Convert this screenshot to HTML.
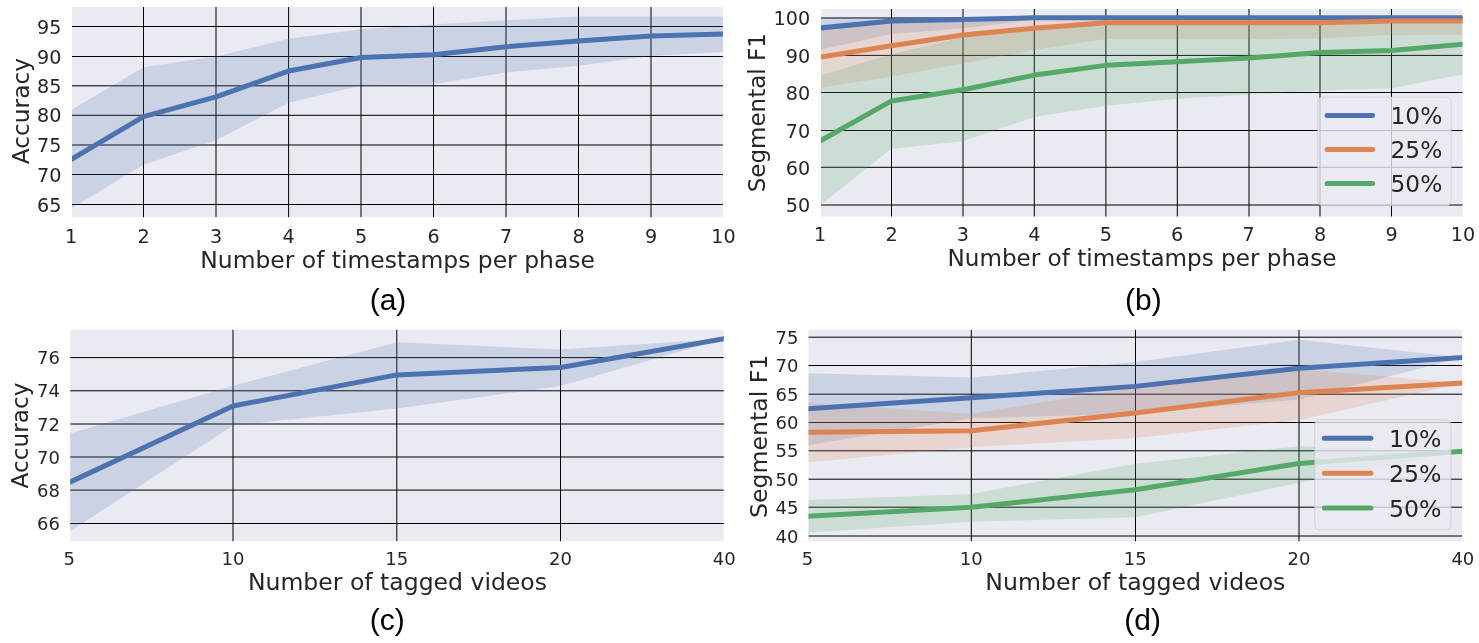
<!DOCTYPE html>
<html><head><meta charset="utf-8"><title>Figure</title>
<style>
html,body{margin:0;padding:0;background:#fff;width:1479px;height:643px;overflow:hidden}
svg{display:block}
.t{font-family:"DejaVu Sans","Liberation Sans",sans-serif;fill:#262626}
.c{font-family:"Liberation Sans",Arial,sans-serif;fill:#000}
</style></head><body>
<svg width="1479" height="643" viewBox="0 0 1479 643">
<clipPath id="clipa"><rect x="72" y="7" width="650.9" height="210.2"/></clipPath>
<rect x="72" y="7" width="650.9" height="210.2" fill="#EAEAF2"/>
<path d="M72 204.5H722.9M72 174.5H722.9M72 145H722.9M72 115.3H722.9M72 85.8H722.9M72 56.5H722.9M72 26.5H722.9M143.5 7V217.2M216 7V217.2M288.6 7V217.2M361 7V217.2M433.5 7V217.2M506 7V217.2M578.5 7V217.2M651 7V217.2" stroke="#000000" stroke-width="1.0" fill="none"/>
<g clip-path="url(#clipa)">
<polygon points="71,110 143.5,67.16 216,56.48 288.5,38.68 361,29.19 433.5,24.44 506,20.29 578.5,16.43 651,16.43 723.5,16.43 723.5,52.03 651,55.89 578.5,65.68 506,72.5 433.5,84.37 361,85.55 288.5,102.76 216,140.14 143.5,164.76 71,208.6" fill="#4C72B0" fill-opacity="0.2"/>
<polyline points="71,159.48 143.5,116.7 216,96.83 288.5,71.08 361,57.43 433.5,54.7 506,46.75 578.5,41.06 651,35.95 723.5,33.94" fill="none" stroke="#4C72B0" stroke-width="5.0" stroke-linecap="round" stroke-linejoin="round"/>
</g>
<text transform="translate(61.5 211.55) scale(0.95 1)" font-size="20.2" text-anchor="end" class="t">65</text>
<text transform="translate(61.5 181.55) scale(0.95 1)" font-size="20.2" text-anchor="end" class="t">70</text>
<text transform="translate(61.5 152.05) scale(0.95 1)" font-size="20.2" text-anchor="end" class="t">75</text>
<text transform="translate(61.5 122.35) scale(0.95 1)" font-size="20.2" text-anchor="end" class="t">80</text>
<text transform="translate(61.5 92.85) scale(0.95 1)" font-size="20.2" text-anchor="end" class="t">85</text>
<text transform="translate(61.5 63.55) scale(0.95 1)" font-size="20.2" text-anchor="end" class="t">90</text>
<text transform="translate(61.5 33.55) scale(0.95 1)" font-size="20.2" text-anchor="end" class="t">95</text>
<text transform="translate(71 242.5) scale(0.95 1)" font-size="20.2" text-anchor="middle" class="t">1</text>
<text transform="translate(143.5 242.5) scale(0.95 1)" font-size="20.2" text-anchor="middle" class="t">2</text>
<text transform="translate(216 242.5) scale(0.95 1)" font-size="20.2" text-anchor="middle" class="t">3</text>
<text transform="translate(288.5 242.5) scale(0.95 1)" font-size="20.2" text-anchor="middle" class="t">4</text>
<text transform="translate(361 242.5) scale(0.95 1)" font-size="20.2" text-anchor="middle" class="t">5</text>
<text transform="translate(433.5 242.5) scale(0.95 1)" font-size="20.2" text-anchor="middle" class="t">6</text>
<text transform="translate(506 242.5) scale(0.95 1)" font-size="20.2" text-anchor="middle" class="t">7</text>
<text transform="translate(578.5 242.5) scale(0.95 1)" font-size="20.2" text-anchor="middle" class="t">8</text>
<text transform="translate(651 242.5) scale(0.95 1)" font-size="20.2" text-anchor="middle" class="t">9</text>
<text transform="translate(723.5 242.5) scale(0.95 1)" font-size="20.2" text-anchor="middle" class="t">10</text>
<text x="397.6" y="268" font-size="23.43" text-anchor="middle" class="t">Number of timestamps per phase</text>
<text transform="translate(28.6 111.1) rotate(-90)" font-size="23.3" text-anchor="middle" class="t">Accuracy</text>
<clipPath id="clipb"><rect x="821" y="9" width="641.5" height="207.5"/></clipPath>
<rect x="821" y="9" width="641.5" height="207.5" fill="#EAEAF2"/>
<path d="M821 205H1462.5M821 167.3H1462.5M821 130.5H1462.5M821 92.5H1462.5M821 55.4H1462.5M821 18H1462.5M891.5 9V216.5M963 9V216.5M1034.3 9V216.5M1105.9 9V216.5M1177.3 9V216.5M1249 9V216.5M1320 9V216.5M1391.5 9V216.5" stroke="#000000" stroke-width="1.0" fill="none"/>
<g clip-path="url(#clipb)">
<polygon points="820.07,17.86 891.5,17.86 962.93,17.86 1034.36,17.86 1105.79,17.86 1177.22,17.86 1248.65,17.86 1320.08,17.86 1391.51,17.86 1462.94,17.86 1462.94,17.86 1391.51,17.86 1320.08,17.86 1248.65,17.86 1177.22,17.86 1105.79,17.86 1034.36,19.73 962.93,28.33 891.5,33.94 820.07,49.66" fill="#4C72B0" fill-opacity="0.2"/>
<polygon points="820.07,27.96 891.5,21.6 962.93,19.73 1034.36,17.86 1105.79,17.86 1177.22,17.86 1248.65,17.86 1320.08,17.86 1391.51,17.86 1462.94,17.86 1462.94,34.69 1391.51,35.07 1320.08,38.43 1248.65,39.37 1177.22,39.18 1105.79,39 1034.36,50.03 962.93,63.5 891.5,76.6 820.07,87.82" fill="#DD8452" fill-opacity="0.2"/>
<polygon points="820.07,75.48 891.5,54.15 962.93,37.31 1034.36,27.21 1105.79,23.47 1177.22,23.47 1248.65,23.47 1320.08,23.47 1391.51,21.6 1462.94,21.6 1462.94,74.35 1391.51,88.2 1320.08,90.44 1248.65,94.56 1177.22,98.68 1105.79,105.78 1034.36,117.01 962.93,141.33 891.5,148.81 820.07,205.31" fill="#55A868" fill-opacity="0.2"/>
<polyline points="820.07,27.96 891.5,20.89 962.93,19.39 1034.36,17.86 1105.79,17.86 1177.22,17.86 1248.65,17.86 1320.08,17.86 1391.51,17.67 1462.94,17.67" fill="none" stroke="#4C72B0" stroke-width="5.0" stroke-linecap="round" stroke-linejoin="round"/>
<polyline points="820.07,57.14 891.5,45.69 962.93,34.99 1034.36,28.33 1105.79,22.79 1177.22,22.79 1248.65,22.79 1320.08,22.79 1391.51,21.04 1462.94,21.04" fill="none" stroke="#DD8452" stroke-width="5.0" stroke-linecap="round" stroke-linejoin="round"/>
<polyline points="820.07,140.96 891.5,100.92 962.93,89.7 1034.36,75.1 1105.79,65.37 1177.22,61.82 1248.65,58.08 1320.08,52.47 1391.51,50.59 1462.94,44.23" fill="none" stroke="#55A868" stroke-width="5.0" stroke-linecap="round" stroke-linejoin="round"/>
</g>
<rect x="1317.9" y="97.1" width="133.2" height="108.5" rx="4.5" fill="#EAEAF2" fill-opacity="0.8" stroke="#CCCCCC" stroke-opacity="0.8" stroke-width="1"/>
<path d="M1327.1 115.4H1372.6" stroke="#4C72B0" stroke-width="5.0" stroke-linecap="round"/>
<text x="1390.5" y="124" font-size="23.3" class="t">10%</text>
<path d="M1327.1 149.6H1372.6" stroke="#DD8452" stroke-width="5.0" stroke-linecap="round"/>
<text x="1390.5" y="158.2" font-size="23.3" class="t">25%</text>
<path d="M1327.1 183.4H1372.6" stroke="#55A868" stroke-width="5.0" stroke-linecap="round"/>
<text x="1390.5" y="192" font-size="23.3" class="t">50%</text>
<text transform="translate(810.2 212.28) scale(0.96 1)" font-size="20.0" text-anchor="end" class="t">50</text>
<text transform="translate(810.2 174.58) scale(0.96 1)" font-size="20.0" text-anchor="end" class="t">60</text>
<text transform="translate(810.2 137.78) scale(0.96 1)" font-size="20.0" text-anchor="end" class="t">70</text>
<text transform="translate(810.2 99.78) scale(0.96 1)" font-size="20.0" text-anchor="end" class="t">80</text>
<text transform="translate(810.2 62.68) scale(0.96 1)" font-size="20.0" text-anchor="end" class="t">90</text>
<text transform="translate(810.2 25.28) scale(0.96 1)" font-size="20.0" text-anchor="end" class="t">100</text>
<text transform="translate(820.07 240.8) scale(0.96 1)" font-size="20.0" text-anchor="middle" class="t">1</text>
<text transform="translate(891.5 240.8) scale(0.96 1)" font-size="20.0" text-anchor="middle" class="t">2</text>
<text transform="translate(962.93 240.8) scale(0.96 1)" font-size="20.0" text-anchor="middle" class="t">3</text>
<text transform="translate(1034.36 240.8) scale(0.96 1)" font-size="20.0" text-anchor="middle" class="t">4</text>
<text transform="translate(1105.79 240.8) scale(0.96 1)" font-size="20.0" text-anchor="middle" class="t">5</text>
<text transform="translate(1177.22 240.8) scale(0.96 1)" font-size="20.0" text-anchor="middle" class="t">6</text>
<text transform="translate(1248.65 240.8) scale(0.96 1)" font-size="20.0" text-anchor="middle" class="t">7</text>
<text transform="translate(1320.08 240.8) scale(0.96 1)" font-size="20.0" text-anchor="middle" class="t">8</text>
<text transform="translate(1391.51 240.8) scale(0.96 1)" font-size="20.0" text-anchor="middle" class="t">9</text>
<text transform="translate(1462.94 240.8) scale(0.96 1)" font-size="20.0" text-anchor="middle" class="t">10</text>
<text x="1142" y="266.2" font-size="23.1" text-anchor="middle" class="t">Number of timestamps per phase</text>
<text transform="translate(765.3 112.75) rotate(-90)" font-size="23.0" text-anchor="middle" class="t">Segmental F1</text>
<clipPath id="clipc"><rect x="70.2" y="329.8" width="653.6" height="211.4"/></clipPath>
<rect x="70.2" y="329.8" width="653.6" height="211.4" fill="#EAEAF2"/>
<path d="M70.2 523.5H723.8M70.2 490.1H723.8M70.2 457H723.8M70.2 424H723.8M70.2 390.8H723.8M70.2 357.6H723.8M233 329.8V541.2M396.8 329.8V541.2M560.5 329.8V541.2" stroke="#000000" stroke-width="1.0" fill="none"/>
<g clip-path="url(#clipc)">
<polygon points="69.25,433.66 233,385.69 396.75,342.36 560.5,349.5 724.25,338.71 724.25,338.71 560.5,386.02 396.75,408.43 233,425.53 69.25,531.77" fill="#4C72B0" fill-opacity="0.2"/>
<polyline points="69.25,482.47 233,405.94 396.75,374.9 560.5,367.43 724.25,338.71" fill="none" stroke="#4C72B0" stroke-width="5.0" stroke-linecap="round" stroke-linejoin="round"/>
</g>
<text transform="translate(60 530.05) scale(1.0 1)" font-size="18.0" text-anchor="end" class="t">66</text>
<text transform="translate(60 496.65) scale(1.0 1)" font-size="18.0" text-anchor="end" class="t">68</text>
<text transform="translate(60 463.55) scale(1.0 1)" font-size="18.0" text-anchor="end" class="t">70</text>
<text transform="translate(60 430.55) scale(1.0 1)" font-size="18.0" text-anchor="end" class="t">72</text>
<text transform="translate(60 397.35) scale(1.0 1)" font-size="18.0" text-anchor="end" class="t">74</text>
<text transform="translate(60 364.15) scale(1.0 1)" font-size="18.0" text-anchor="end" class="t">76</text>
<text transform="translate(69.25 565) scale(1.0 1)" font-size="18.0" text-anchor="middle" class="t">5</text>
<text transform="translate(233 565) scale(1.0 1)" font-size="18.0" text-anchor="middle" class="t">10</text>
<text transform="translate(396.75 565) scale(1.0 1)" font-size="18.0" text-anchor="middle" class="t">15</text>
<text transform="translate(560.5 565) scale(1.0 1)" font-size="18.0" text-anchor="middle" class="t">20</text>
<text transform="translate(724.25 565) scale(1.0 1)" font-size="18.0" text-anchor="middle" class="t">40</text>
<text x="397.45" y="590" font-size="23.54" text-anchor="middle" class="t">Number of tagged videos</text>
<text transform="translate(28 435.5) rotate(-90)" font-size="23.2" text-anchor="middle" class="t">Accuracy</text>
<clipPath id="clipd"><rect x="808.5" y="329.8" width="653.7" height="211.4"/></clipPath>
<rect x="808.5" y="329.8" width="653.7" height="211.4" fill="#EAEAF2"/>
<path d="M808.5 536H1462.2M808.5 507.2H1462.2M808.5 479.2H1462.2M808.5 450.8H1462.2M808.5 422.5H1462.2M808.5 394.2H1462.2M808.5 365.5H1462.2M808.5 337.2H1462.2M971.3 329.8V541.2M1135.5 329.8V541.2M1299 329.8V541.2" stroke="#000000" stroke-width="1.0" fill="none"/>
<g clip-path="url(#clipd)">
<polygon points="807.45,373.32 971.3,377.58 1135.15,361.96 1299,339.8 1462.85,357.41 1462.85,357.41 1299,399.44 1135.15,413.64 971.3,418.19 807.45,445.45" fill="#4C72B0" fill-opacity="0.2"/>
<polygon points="807.45,402.85 971.3,413.64 1135.15,387.52 1299,369.34 1462.85,382.97 1462.85,382.97 1299,420.12 1135.15,438.07 971.3,447.16 807.45,462.21" fill="#DD8452" fill-opacity="0.2"/>
<polygon points="807.45,499.98 971.3,493.96 1135.15,463.63 1299,446.13 1462.85,451.25 1462.85,451.25 1299,482.71 1135.15,517.25 971.3,521.79 807.45,532.81" fill="#55A868" fill-opacity="0.2"/>
<polyline points="807.45,408.87 971.3,397.74 1135.15,386.38 1299,368.32 1462.85,357.41" fill="none" stroke="#4C72B0" stroke-width="5.0" stroke-linecap="round" stroke-linejoin="round"/>
<polyline points="807.45,432.22 971.3,430.68 1135.15,413.08 1299,392.63 1462.85,382.97" fill="none" stroke="#DD8452" stroke-width="5.0" stroke-linecap="round" stroke-linejoin="round"/>
<polyline points="807.45,516.17 971.3,507.36 1135.15,489.76 1299,463.46 1462.85,451.25" fill="none" stroke="#55A868" stroke-width="5.0" stroke-linecap="round" stroke-linejoin="round"/>
</g>
<rect x="1314.8" y="419.8" width="136.1" height="110" rx="4.5" fill="#EAEAF2" fill-opacity="0.8" stroke="#CCCCCC" stroke-opacity="0.8" stroke-width="1"/>
<path d="M1324.3 438.3H1370.9" stroke="#4C72B0" stroke-width="5.0" stroke-linecap="round"/>
<text x="1389" y="446.9" font-size="23.6" class="t">10%</text>
<path d="M1324.3 473.2H1370.9" stroke="#DD8452" stroke-width="5.0" stroke-linecap="round"/>
<text x="1389" y="481.8" font-size="23.6" class="t">25%</text>
<path d="M1324.3 508H1370.9" stroke="#55A868" stroke-width="5.0" stroke-linecap="round"/>
<text x="1389" y="516.6" font-size="23.6" class="t">50%</text>
<text transform="translate(798.5 542.55) scale(1.0 1)" font-size="18.0" text-anchor="end" class="t">40</text>
<text transform="translate(798.5 513.75) scale(1.0 1)" font-size="18.0" text-anchor="end" class="t">45</text>
<text transform="translate(798.5 485.75) scale(1.0 1)" font-size="18.0" text-anchor="end" class="t">50</text>
<text transform="translate(798.5 457.35) scale(1.0 1)" font-size="18.0" text-anchor="end" class="t">55</text>
<text transform="translate(798.5 429.05) scale(1.0 1)" font-size="18.0" text-anchor="end" class="t">60</text>
<text transform="translate(798.5 400.75) scale(1.0 1)" font-size="18.0" text-anchor="end" class="t">65</text>
<text transform="translate(798.5 372.05) scale(1.0 1)" font-size="18.0" text-anchor="end" class="t">70</text>
<text transform="translate(798.5 343.75) scale(1.0 1)" font-size="18.0" text-anchor="end" class="t">75</text>
<text transform="translate(807.45 565) scale(1.0 1)" font-size="18.0" text-anchor="middle" class="t">5</text>
<text transform="translate(971.3 565) scale(1.0 1)" font-size="18.0" text-anchor="middle" class="t">10</text>
<text transform="translate(1135.15 565) scale(1.0 1)" font-size="18.0" text-anchor="middle" class="t">15</text>
<text transform="translate(1299 565) scale(1.0 1)" font-size="18.0" text-anchor="middle" class="t">20</text>
<text transform="translate(1462.85 565) scale(1.0 1)" font-size="18.0" text-anchor="middle" class="t">40</text>
<text x="1135.35" y="590" font-size="23.62" text-anchor="middle" class="t">Number of tagged videos</text>
<text transform="translate(766.9 436.25) rotate(-90)" font-size="23.6" text-anchor="middle" class="t">Segmental F1</text>
<text x="388" y="309.6" font-size="30.0" text-anchor="middle" class="c">(a)</text>
<text x="1143.4" y="309.6" font-size="30.0" text-anchor="middle" class="c">(b)</text>
<text x="387.3" y="629.8" font-size="30.0" text-anchor="middle" class="c">(c)</text>
<text x="1142.6" y="629.8" font-size="30.0" text-anchor="middle" class="c">(d)</text>
</svg>
</body></html>
